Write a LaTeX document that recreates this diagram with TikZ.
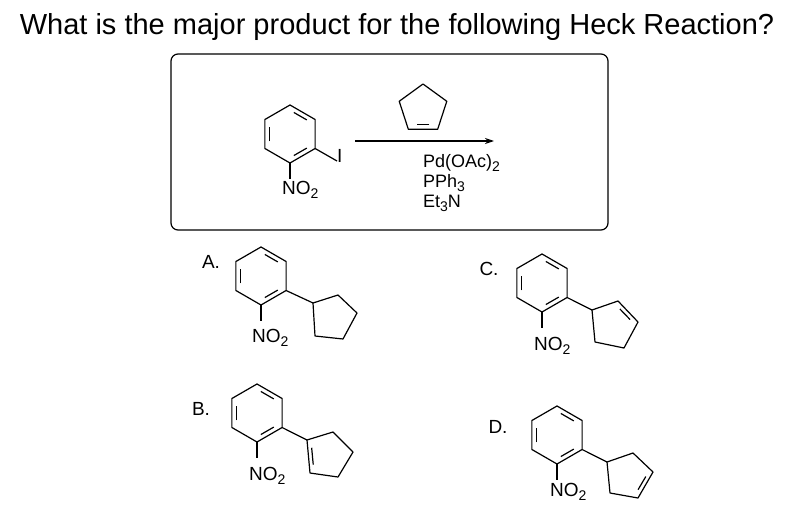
\documentclass[tikz,border=0pt]{standalone}
\usepackage{fontspec}
\setmainfont{Liberation Sans}
\usetikzlibrary{calc,arrows.meta}
\newcommand\subs[1]{\raisebox{-0.4ex}{\fontsize{14}{14}\selectfont #1}}
\newcommand\benzring[2]{%
 \draw[bond] (#1,#2) +(-90:29) -- +(-30:29) -- +(30:29) -- +(90:29) -- +(150:29) -- +(210:29) -- cycle;
 \draw[bond] (#1,#2) +(160:21.9) -- +(200:21.9);
 \draw[bond] (#1,#2) +(-80:21.9) -- +(-40:21.9);
 \draw[bond] (#1,#2) +(40:21.9) -- +(80:21.9);
 \draw[bond] (#1,#2) +(90:29) -- +(90:45);
}
\newcommand\dbl[3]{% inner line of edge #1-#2 toward centre #3
 \draw[bond] ($($(#1)!0.18!(#2)$)!4.5pt!(#3)$) -- ($($(#1)!0.82!(#2)$)!4.5pt!(#3)$);}
\begin{document}
\begin{tikzpicture}[x=1pt,y=-1pt,
  bond/.style={line width=1.2pt,line join=round},
  lbl/.style={inner sep=0pt,font=\fontsize{19}{19}\selectfont},
  rgt/.style={inner sep=0pt,font=\fontsize{18}{18}\selectfont},
  ttl/.style={inner sep=0pt,font=\fontsize{29}{29}\selectfont}]
\useasboundingbox (0,0) rectangle (792,516);
\node[ttl] (title) at (397,27) {What is the major product for the following Heck Reaction?};
\draw[line width=1.2pt,rounded corners=7pt] (171,54) rectangle (608,230);
% reactant
\benzring{290}{134}
\coordinate (rv) at ($(290,134)+(30:29)$);
\coordinate (ri) at (337,161);
\draw[bond] (rv) -- (ri);
\node[lbl,anchor=west] (iod) at (337,156) {I};
\node[lbl,anchor=west] (rno) at (282,190) {NO\subs{2}};
% cyclopentene over arrow
\draw[bond] (423,109) +(-90:25) -- +(-18:25) -- +(54:25) -- +(126:25) -- +(198:25) -- cycle;
\draw[bond] (423,109) +(68:16.9) -- +(112:16.9);
\coordinate (a1) at (355,141); \coordinate (a2) at (494,141);
\draw[line width=1.2pt,-{Stealth[length=9pt,width=6pt]}] (a1) -- (a2);
\node[rgt,anchor=west] (pd) at (423,163) {Pd(OAc)\subs{2}};
\node[rgt,anchor=west] (pph) at (423,183) {PPh\subs{3}};
\node[rgt,anchor=west] (et) at (423,203) {Et\subs{3}N};
% A
\node[lbl] (la) at (211,262) {A.};
\benzring{261}{276}
\coordinate (A1) at (313,303); \coordinate (A2) at (338,295); \coordinate (A3) at (357,313);
\coordinate (A4) at (343,339); \coordinate (A5) at (315,336);
\draw[bond] ($(261,276)+(30:29)$) -- (A1);
\draw[bond] (A1) -- (A2) -- (A3) -- (A4) -- (A5) -- cycle;
\node[lbl,anchor=west] (ano) at (252,338) {NO\subs{2}};
% B
\node[lbl] (lb) at (201,409) {B.};
\benzring{257}{413}
\coordinate (B1) at (307,440); \coordinate (B2) at (333,432); \coordinate (B3) at (353,452);
\coordinate (B4) at (338,477); \coordinate (B5) at (310,473); \coordinate (BC) at (328,455);
\draw[bond] ($(257,413)+(30:29)$) -- (B1);
\draw[bond] (B1) -- (B2) -- (B3) -- (B4) -- (B5) -- cycle;
\dbl{B1}{B5}{BC}
\node[lbl,anchor=west] (bno) at (249,476) {NO\subs{2}};
% C
\node[lbl] (lc) at (489,269) {C.};
\benzring{542}{283}
\coordinate (C1) at (592,310); \coordinate (C2) at (618,301); \coordinate (C3) at (638,322);
\coordinate (C4) at (624,348); \coordinate (C5) at (595,342); \coordinate (CC) at (613,325);
\draw[bond] ($(542,283)+(30:29)$) -- (C1);
\draw[bond] (C1) -- (C2) -- (C3) -- (C4) -- (C5) -- cycle;
\dbl{C2}{C3}{CC}
\node[lbl,anchor=west] (cno) at (534,346) {NO\subs{2}};
% D
\node[lbl] (ld) at (498,427) {D.};
\benzring{557}{435}
\coordinate (D1) at (607,462); \coordinate (D2) at (633,453); \coordinate (D3) at (653,472);
\coordinate (D4) at (638,498); \coordinate (D5) at (610,493); \coordinate (DC) at (628,476);
\draw[bond] ($(557,435)+(30:29)$) -- (D1);
\draw[bond] (D1) -- (D2) -- (D3) -- (D4) -- (D5) -- cycle;
\dbl{D3}{D4}{DC}
\node[lbl,anchor=west] (dno) at (550,492) {NO\subs{2}};
\end{tikzpicture}
\end{document}
